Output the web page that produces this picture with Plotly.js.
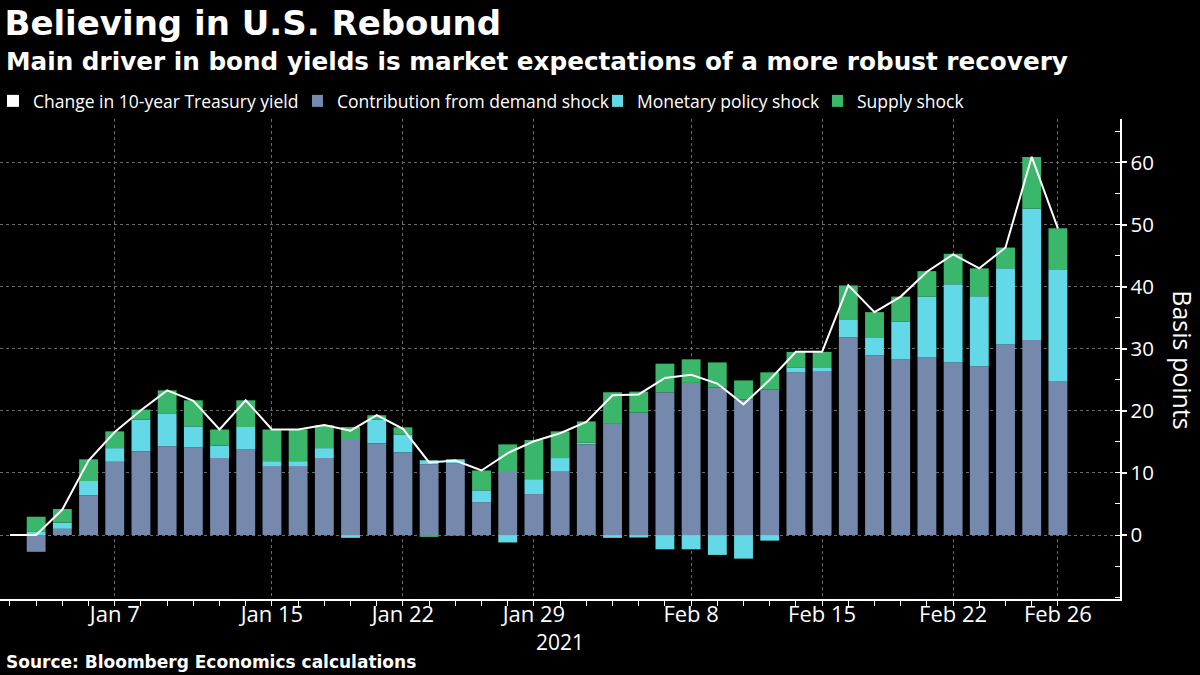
<!DOCTYPE html>
<html>
<head>
<meta charset="utf-8">
<script src="https://cdn.plot.ly/plotly-3.0.1.min.js"></script>
<style>
  html, body { margin: 0; padding: 0; background: #000; }
  #chart { width: 1200px; height: 675px; }
</style>
</head>
<body>
<div id="chart"></div>
<script>
// ---- Data (basis points), business days Dec 31 2020 - Feb 26 2021 ----
const dates = [
  '2020-12-31',
  '2021-01-04','2021-01-05','2021-01-06','2021-01-07','2021-01-08',
  '2021-01-11','2021-01-12','2021-01-13','2021-01-14','2021-01-15',
  '2021-01-18','2021-01-19','2021-01-20','2021-01-21','2021-01-22',
  '2021-01-25','2021-01-26','2021-01-27','2021-01-28','2021-01-29',
  '2021-02-01','2021-02-02','2021-02-03','2021-02-04','2021-02-05',
  '2021-02-08','2021-02-09','2021-02-10','2021-02-11','2021-02-12',
  '2021-02-15','2021-02-16','2021-02-17','2021-02-18','2021-02-19',
  '2021-02-22','2021-02-23','2021-02-24','2021-02-25','2021-02-26'
];
const yieldChange = [
  0,
  0, 4.1, 12.0, 16.6, 20.1,
  23.3, 21.6, 17.0, 21.7, 17.0,
  17.0, 17.7, 16.8, 19.3, 17.1,
  11.7, 12.0, 10.4, 13.2, 15.1,
  16.4, 18.2, 22.5, 22.65, 25.3,
  25.8, 24.4, 21.05, 25.0, 29.5,
  29.5, 40.2, 35.9, 38.4, 42.4,
  45.2, 42.95, 46.3, 60.9, 49.4
];
const demandShock = [
  null,
  -2.7, 1.0, 6.4, 11.8, 13.5,
  14.3, 14.1, 12.4, 13.8, 11.1,
  11.1, 12.4, 15.3, 14.8, 13.3,
  11.4, 11.5, 5.3, 10.3, 6.6,
  10.3, 14.6, 17.9, 19.7, 23.0,
  24.5, 23.8, 21.8, 23.4, 26.2,
  26.4, 31.85, 28.95, 28.3, 28.6,
  27.8, 27.2, 30.7, 31.4, 24.8
];
const monetaryShock = [
  null,
  0.5, 1.0, 2.3, 2.2, 5.1,
  5.2, 3.4, 2.0, 3.6, 0.8,
  0.8, 1.6, -0.45, 3.8, 2.9,
  0.65, 0.7, 1.9, -1.2, 2.4,
  2.1, 0.25, -0.45, -0.4, -2.3,
  -2.3, -3.2, -3.8, -0.9, 0.8,
  0.5, 2.9, 2.9, 6.1, 9.8,
  12.6, 11.25, 12.25, 21.2, 18.0
];
const supplyShock = [
  null,
  2.45, 2.2, 3.5, 2.7, 1.6,
  3.8, 4.2, 2.6, 4.3, 5.1,
  5.1, 3.7, 2.1, 0.7, 1.15,
  -0.3, -0.1, 3.2, 4.3, 6.3,
  4.3, 3.45, 5.1, 3.4, 4.6,
  3.8, 4.0, 3.1, 2.8, 2.5,
  2.6, 5.45, 4.05, 4.0, 4.1,
  4.9, 4.5, 3.35, 8.3, 6.6
];
const tickDates  = ['2021-01-07','2021-01-15','2021-01-22','2021-01-29','2021-02-08','2021-02-15','2021-02-22','2021-02-26'];
const tickLabels = ['Jan 7','Jan 15','Jan 22','Jan 29','Feb 8','Feb 15','Feb 22','Feb 26'];
const yTicks = [0, 10, 20, 30, 40, 50, 60];

// ---- Styles ----
const C_DEMAND = '#7589AD';
const C_MON = '#63D8E6';
const C_SUP = '#3AB76A';
const FONT = 'Open Sans, Noto Sans, sans-serif';
const BOLD = 'DejaVu Sans, Liberation Sans, sans-serif';

const traces = [
  { type: 'bar', name: 'Contribution from demand shock', x: dates, y: demandShock,
    marker: { color: C_DEMAND }, legend: 'legend2', hoverinfo: 'skip' },
  { type: 'bar', name: 'Monetary policy shock', x: dates, y: monetaryShock,
    marker: { color: C_MON }, legend: 'legend3', hoverinfo: 'skip' },
  { type: 'bar', name: 'Supply shock', x: dates, y: supplyShock,
    marker: { color: C_SUP }, legend: 'legend4', hoverinfo: 'skip' },
  // legend swatch for the yield line (square, as in the original)
  { type: 'bar', name: 'Change in 10-year Treasury yield', x: [dates[0]], y: [null],
    marker: { color: '#ffffff' }, legend: 'legend', hoverinfo: 'skip' },
  { type: 'scatter', mode: 'lines', name: 'Change in 10-year Treasury yield',
    x: dates, y: yieldChange, xaxis: 'x2', yaxis: 'y',
    line: { color: '#ffffff', width: 2 }, showlegend: false, hoverinfo: 'skip' }
];

const XR = [-0.38, 42.37];
const legendBase = { orientation: 'h', xanchor: 'left', yanchor: 'middle', yref: 'container',
  y: 1 - 101/675, bgcolor: 'rgba(0,0,0,0)', borderwidth: 0, indentation: -15,
  font: { family: FONT, size: 17.5, color: '#ffffff' }, itemclick: false, itemdoubleclick: false };

const layout = {
  width: 1200, height: 675,
  paper_bgcolor: '#000000', plot_bgcolor: '#000000',
  margin: { l: 0, r: 80, t: 118, b: 75.5 },
  barmode: 'relative', bargap: 0.28,
  showlegend: true,
  title: {
    text: 'Believing in U.S. Rebound',
    font: { family: BOLD, size: 34, color: '#ffffff', weight: 'bold' },
    x: 0.004, xanchor: 'left', xref: 'paper',
    y: 1 - 23/675, yanchor: 'middle', yref: 'container'
  },
  legend:  Object.assign({}, legendBase, { x: 0, indentation: -7 }),
  legend2: Object.assign({}, legendBase, { x: (337-25)/1120 }),
  legend3: Object.assign({}, legendBase, { x: (637-25)/1120 }),
  legend4: Object.assign({}, legendBase, { x: (857-25)/1120 }),
  xaxis: {
    type: 'category', categoryorder: 'array', categoryarray: dates,
    range: XR,
    tickmode: 'array', tickvals: tickDates, ticktext: tickLabels,
    ticks: '', showline: false,
    showgrid: true, gridcolor: '#6a6a6a', griddash: 'dot', gridwidth: 1,
    tickfont: { family: FONT, size: 22, color: '#ffffff' },
    title: { text: '2021', font: { family: FONT, size: 21, color: '#ffffff' }, standoff: 0 },
    zeroline: false, fixedrange: true
  },
  xaxis2: {
    type: 'category', categoryorder: 'array', categoryarray: dates,
    overlaying: 'x', side: 'bottom', anchor: 'y',
    range: XR,
    tickmode: 'array', tickvals: dates, showticklabels: false,
    ticks: 'outside', ticklen: 5, tickwidth: 1, tickcolor: '#ffffff',
    showline: true, linecolor: '#ffffff', linewidth: 1.5,
    showgrid: false, zeroline: false, fixedrange: true
  },
  yaxis: {
    side: 'right', range: [-10.3, 67],
    tickmode: 'array', tickvals: yTicks,
    ticks: 'outside', ticklen: 5, tickwidth: 2, tickcolor: '#ffffff',
    minor: { tick0: 0, dtick: 5, ticks: 'inside', ticklen: 5, tickwidth: 1, tickcolor: '#ffffff', showgrid: false },
    showline: true, linecolor: '#ffffff', linewidth: 1.5,
    showgrid: true, gridcolor: '#6a6a6a', griddash: 'dot', gridwidth: 1,
    zeroline: false,
    tickfont: { family: FONT, size: 20.5, color: '#ffffff' },
    fixedrange: true
  },
  annotations: [
    { text: 'Main driver in bond yields is market expectations of a more robust recovery',
      xref: 'paper', yref: 'paper', x: 0.004, y: 1 + (118-60)/481.5,
      xanchor: 'left', yanchor: 'middle', showarrow: false,
      font: { family: BOLD, size: 24.7, color: '#ffffff', weight: 'bold' } },
    { text: 'Basis points', xref: 'paper', yref: 'paper',
      x: (1183)/1120, y: (599.5-359)/481.5, xanchor: 'center', yanchor: 'middle',
      textangle: 90, showarrow: false,
      font: { family: FONT, size: 25, color: '#ffffff' } },
    { text: 'Source: Bloomberg Economics calculations',
      xref: 'paper', yref: 'paper', x: 0.004, y: -(663-599.5)/481.5,
      xanchor: 'left', yanchor: 'middle', showarrow: false,
      font: { family: BOLD, size: 17, color: '#ffffff', weight: 'bold' } }
  ]
};

Plotly.newPlot('chart', traces, layout, { displayModeBar: false, staticPlot: true });
</script>
</body>
</html>
